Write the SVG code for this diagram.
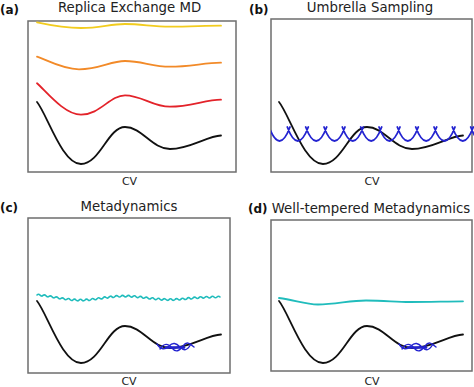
<svg xmlns="http://www.w3.org/2000/svg" width="474" height="387" viewBox="0 0 474 387">
<style>
  .box{fill:none;stroke:#6e6e6e;stroke-width:1.5}
  .ttl{font-family:"DejaVu Sans",sans-serif;font-size:13.3px;fill:#222;text-anchor:middle}
  .lab{font-family:"DejaVu Sans",sans-serif;font-size:12px;font-weight:bold;fill:#111}
  .cv{font-family:"DejaVu Sans",sans-serif;font-size:11px;fill:#222;text-anchor:middle}
  .c{fill:none;stroke-width:1.8;stroke-linecap:round;stroke-linejoin:round}
  .blk{stroke:#111}
  .blu{stroke:#2323d0}
  .cyn{stroke:#20bcbc}
</style>
<defs>
  <path id="fes" d="M37,102 C47,114 62,164 81,164 C100,164 108,127 125,127 C142,127 152,149 170,149 C190,149 207,136 221,135.5"/>
  <g id="blob">
    <path d="M157,344 C161,350 165,350 169,346 S176,343 180,347 S187,351 191,344"/>
    <path d="M160,349 C164,343 168,343 172,348 S179,351 183,346 S189,343 194,347"/>
    <path d="M166,347.5 L184,347.5" style="stroke-width:2.6"/>
  </g>
  <clipPath id="clipb"><rect x="271" y="0" width="210" height="387"/></clipPath>
</defs>

<g id="panel-a">
  <text class="lab" x="0" y="14">(a)</text>
  <text class="ttl" x="129.5" y="12">Replica Exchange MD</text>
  <rect class="box" x="28" y="21" width="208" height="151"/>
  <path class="c" stroke="#f2cc1e" d="M37,22.3 C45,24 66,28 81,28 C100,28 110,24 125,24 C142,24 152,26.7 170,26.7 C190,26.7 205,25.7 221,25.7"/>
  <path class="c" stroke="#f28a28" d="M37,56.7 C45,59 62,69.3 79,69.3 C100,69.3 110,61 125,61 C142,61 152,66.7 170,66.7 C190,66.7 205,62.7 221,62.7"/>
  <path class="c" stroke="#e3232a" d="M37,83.3 C45,90 64,114.7 81,114.7 C100,114.7 110,95.3 125,95.3 C142,95.3 152,106.7 170,106.7 C190,106.7 206,99.7 221,99.7"/>
  <use href="#fes" class="c blk"/>
  <text class="cv" x="129.5" y="185">CV</text>
</g>

<g id="panel-b">
  <text class="lab" x="249" y="14">(b)</text>
  <text class="ttl" x="370" y="12">Umbrella Sampling</text>
  <rect class="box" x="271" y="19" width="201" height="153"/>
  <use href="#fes" class="c blk" transform="translate(242,0)"/>
  <path class="c blu" clip-path="url(#clipb)" d="M269,127 Q279.5,155 290,127 M287.3,127 Q297.8,155 308.3,127 M305.7,127 Q316.2,155 326.7,127 M324,127 Q334.5,155 345,127 M342.3,127 Q352.8,155 363.3,127 M360.7,127 Q371.2,155 381.7,127 M379,127 Q389.5,155 400,127 M397.3,127 Q407.8,155 418.3,127 M415.7,127 Q426.2,155 436.7,127 M434,127 Q444.5,155 455,127 M452.3,127 Q462.8,155 473.3,127 M470.7,127 Q481.2,155 491.7,127"/>
  <text class="cv" x="372" y="185">CV</text>
</g>

<g id="panel-c">
  <text class="lab" x="0" y="212">(c)</text>
  <text class="ttl" x="129" y="211">Metadynamics</text>
  <rect class="box" x="28" y="218" width="202" height="155"/>
  <use href="#fes" class="c blk" transform="translate(0,199)"/>
  <path class="c cyn" style="stroke-width:1.6" d="M37,295
q1.5,-1.5 3,0.1 q1.5,1.8 3,0.3 q1.5,-1.3 3,0.4 q1.5,1.8 3,0.5 q1.5,-1.2 3,0.5 q1.5,1.8 3,0.5 q1.5,-1.2 3,0.5 q1.5,1.8 3,0.5 q1.5,-1.2 3,0.5 q1.5,1.7 3,0.4 q1.5,-1.4 3,0.3 q1.5,1.7 3,0.3 q1.5,-1.5 3,0.2 q1.5,1.6 3,0.1 q1.5,-1.6 3,0
q1.5,1.5 3,-0.1 q1.5,-1.7 3,-0.2 q1.5,1.4 3,-0.3 q1.5,-1.8 3,-0.4 q1.5,1.4 3,-0.4 q1.5,-1.8 3,-0.4 q1.5,1.4 3,-0.4 q1.5,-1.8 3,-0.4 q1.5,1.4 3,-0.4 q1.5,-1.7 3,-0.3 q1.5,1.4 3,-0.3 q1.5,-1.7 3,-0.2 q1.5,1.5 3,-0.1 q1.5,-1.6 3,-0.1 q1.5,1.6 3,0
q1.5,-1.5 3,0.1 q1.5,1.7 3,0.2 q1.5,-1.4 3,0.3 q1.5,1.7 3,0.3 q1.5,-1.4 3,0.3 q1.5,1.8 3,0.4 q1.5,-1.4 3,0.4 q1.5,1.7 3,0.3 q1.5,-1.4 3,0.3 q1.5,1.7 3,0.3 q1.5,-1.5 3,0.2 q1.5,1.7 3,0.2 q1.5,-1.5 3,0.1 q1.5,1.6 3,0.1 q1.5,-1.6 3,0
q1.5,1.5 3,-0.1 q1.5,-1.7 3,-0.2 q1.5,1.5 3,-0.2 q1.5,-1.7 3,-0.2 q1.5,1.4 3,-0.3 q1.5,-1.8 3,-0.3 q1.5,1.4 3,-0.3 q1.5,-1.7 3,-0.2 q1.5,1.5 3,-0.2 q1.5,-1.7 3,-0.2 q1.5,1.5 3,-0.1 q1.5,-1.6 3,-0.1 q1.5,1.5 3,-0.1 q1.5,-1.6 3,-0.1 q1.5,1.6 3,0 q1.5,-1.6 3,0"/>
  <use href="#blob" class="c blu" style="stroke-width:1.4"/>
  <text class="cv" x="129" y="385">CV</text>
</g>

<g id="panel-d">
  <text class="lab" x="248" y="213">(d)</text>
  <text class="ttl" x="371" y="213">Well-tempered Metadynamics</text>
  <rect class="box" x="271" y="220" width="201" height="151"/>
  <use href="#fes" class="c blk" transform="translate(242,199)"/>
  <path class="c cyn" d="M279,298 C295,300 305,304.5 318,304.5 C335,304.5 350,300.5 366,300.5 C385,300.5 395,302 410,302 C430,302 448,301.3 463,301.3"/>
  <use href="#blob" class="c blu" style="stroke-width:1.4" transform="translate(242,0)"/>
  <text class="cv" x="372" y="385">CV</text>
</g>
</svg>
